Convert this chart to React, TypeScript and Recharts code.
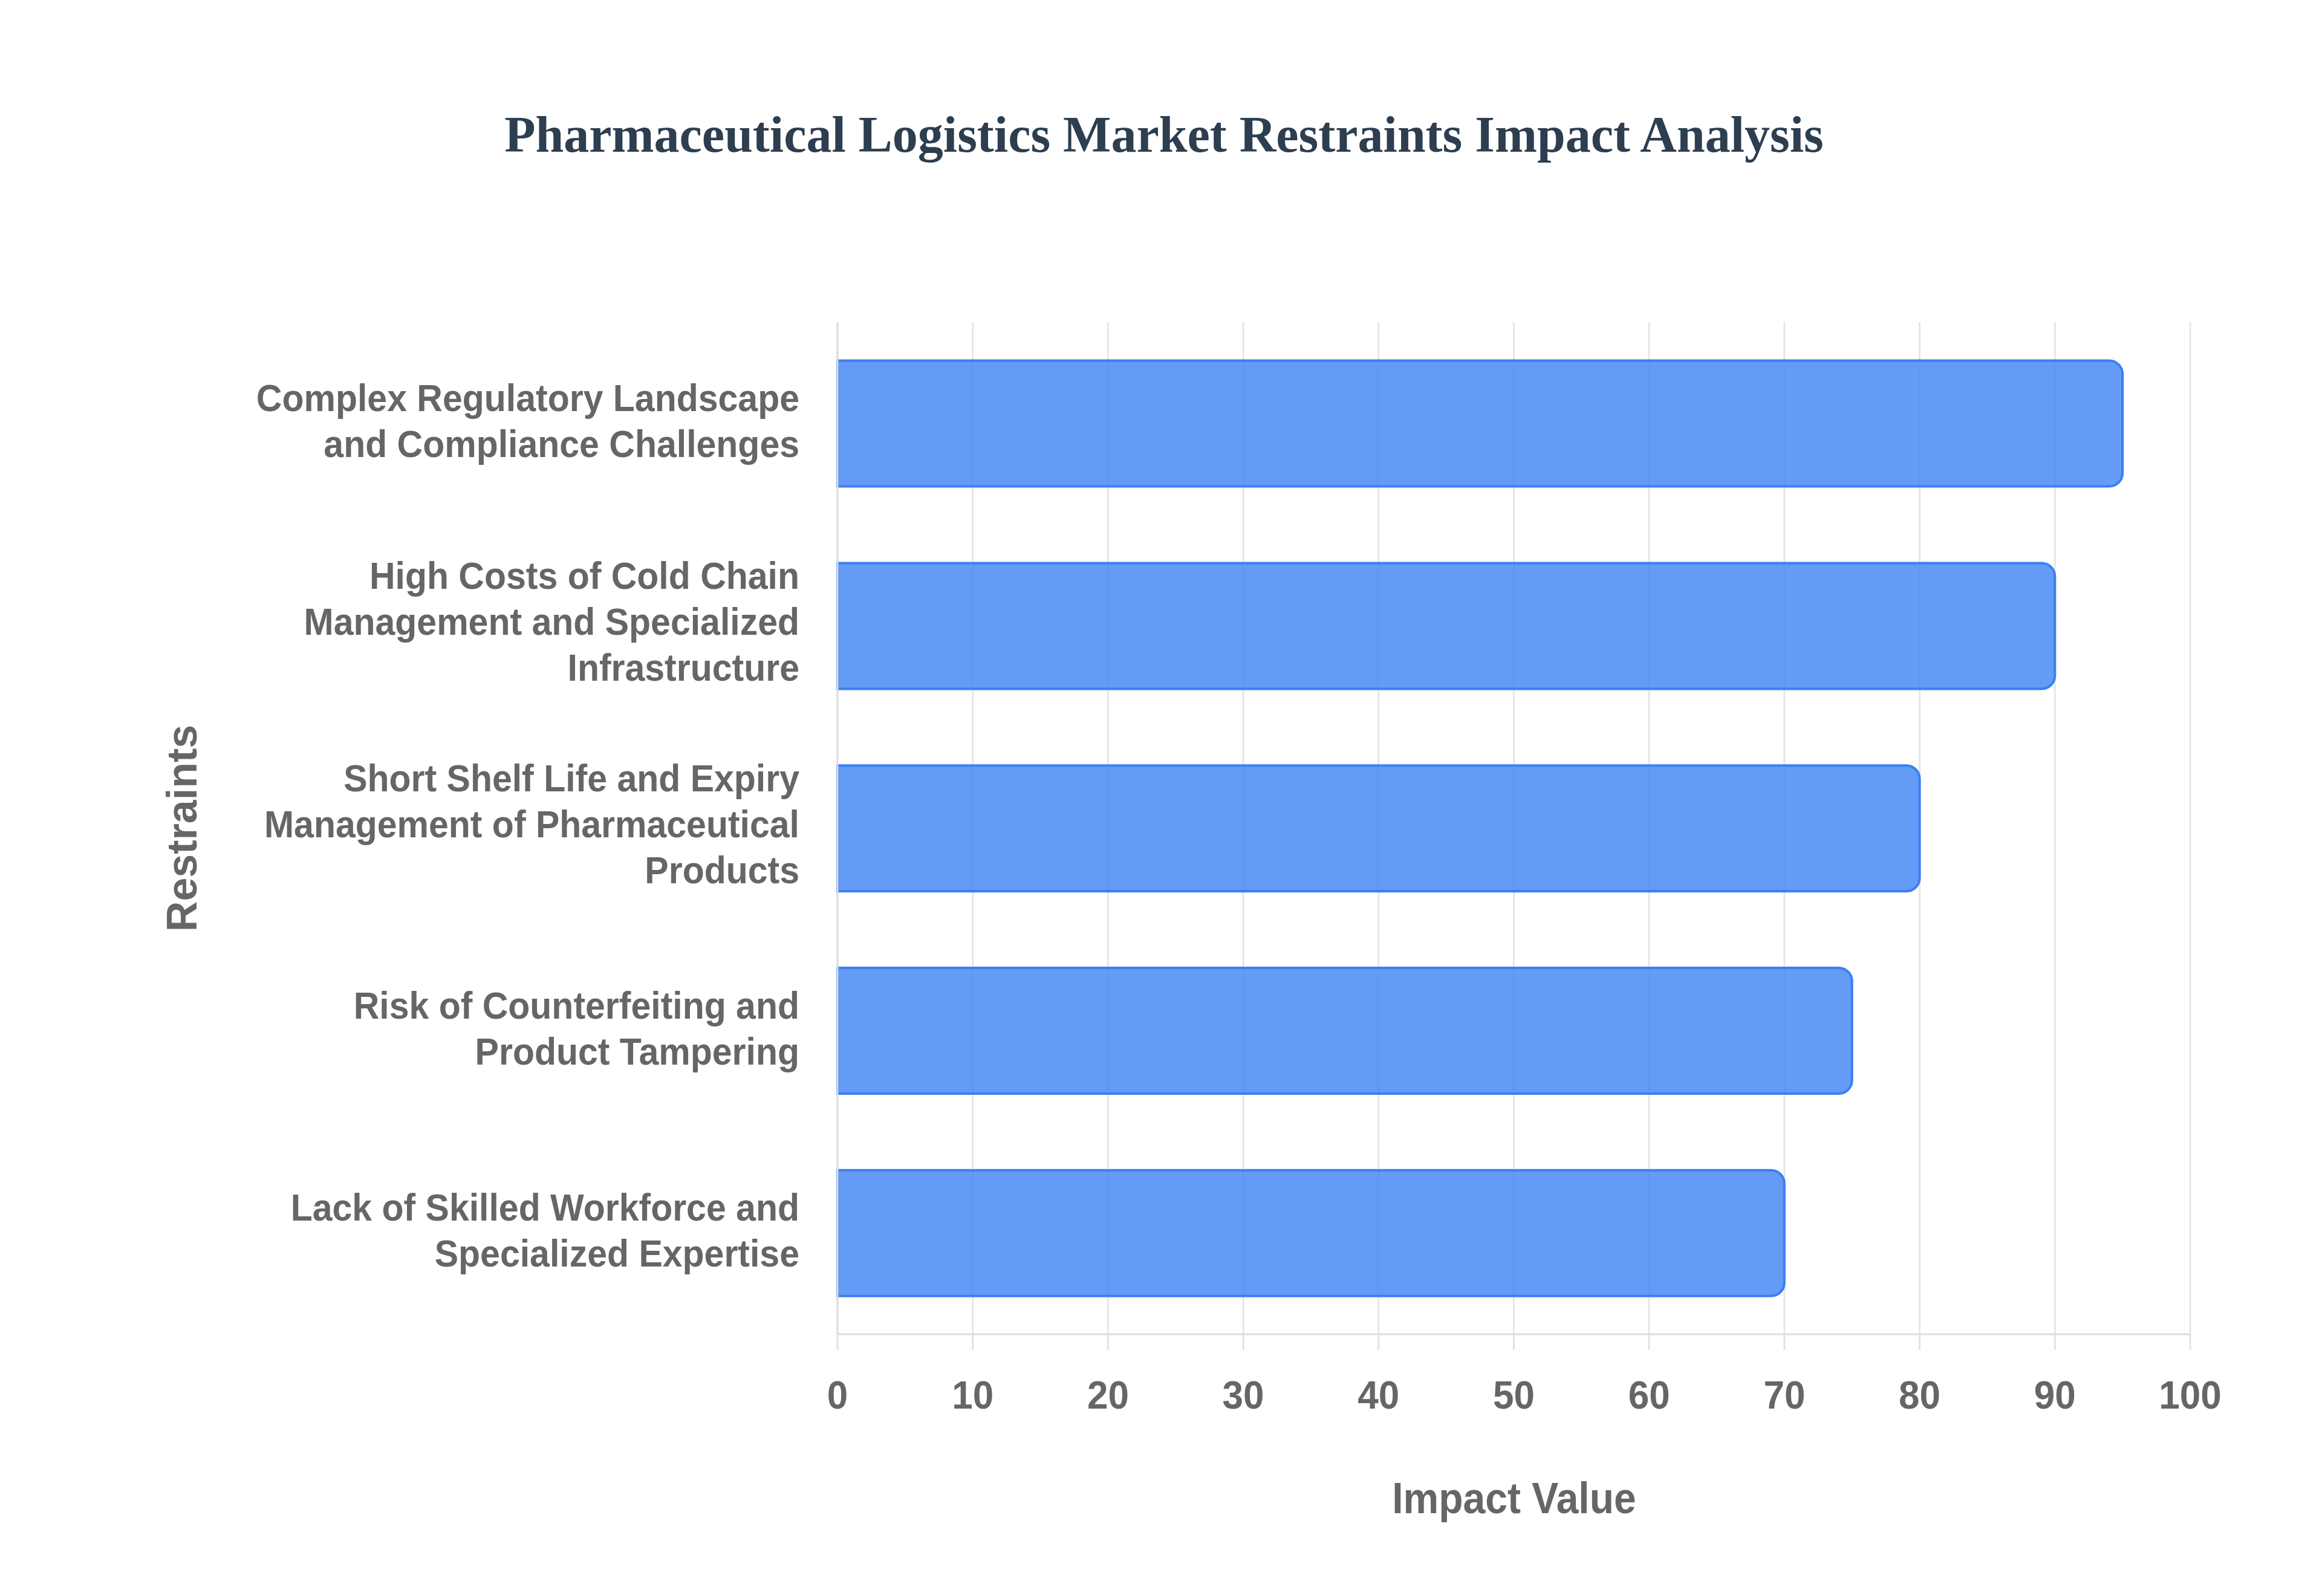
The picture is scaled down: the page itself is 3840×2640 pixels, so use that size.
import React from 'react';
import { BarChart, Bar, XAxis, YAxis, CartesianGrid } from 'recharts';

const restraintLines: string[][] = [
  ['Complex Regulatory Landscape', 'and Compliance Challenges'],
  ['High Costs of Cold Chain', 'Management and Specialized', 'Infrastructure'],
  ['Short Shelf Life and Expiry', 'Management of Pharmaceutical', 'Products'],
  ['Risk of Counterfeiting and', 'Product Tampering'],
  ['Lack of Skilled Workforce and', 'Specialized Expertise'],
];
const categories: string[] = restraintLines.map((l) => l.join(' '));
const impactValues: number[] = [95, 90, 80, 75, 70];
const xTicks: number[] = [0, 10, 20, 30, 40, 50, 60, 70, 80, 90, 100];

const chartTitle = 'Pharmaceutical Logistics Market Restraints Impact Analysis';
const xTitle = 'Impact Value';
const yTitle = 'Restraints';

const data = categories.map((name, i) => ({ name, value: impactValues[i] }));

const W = 3840;
const H = 2640;
const SANS = '"Liberation Sans", Arial, Helvetica, sans-serif';
const TEXT_GREY = '#666666';

const YTick = (props: any) => {
  const { x, y, payload } = props;
  const idx = categories.indexOf(payload.value);
  const lines = idx >= 0 ? restraintLines[idx] : [String(payload.value)];
  const lh = 76;
  const start = y - 2 - ((lines.length - 1) * lh) / 2;
  return (
    <g transform={`translate(0 ${y}) scale(1 1.08) translate(0 ${-y})`}>
      <text
        x={x}
        y={start}
        textAnchor="end"
        fill={TEXT_GREY}
        fontFamily={SANS}
        fontWeight={700}
        fontSize={59}
      >
        {lines.map((l, i) => (
          <tspan key={i} x={x} y={start + (i * lh) / 1.08} dy="0.36em">
            {l}
          </tspan>
        ))}
      </text>
    </g>
  );
};

const XTick = (props: any) => {
  const { x, y, payload } = props;
  const cy = y + 23;
  return (
    <g transform={`translate(0 ${cy}) scale(1 1.06) translate(0 ${-cy})`}>
      <text
        x={x}
        y={y}
        textAnchor="middle"
        fill={TEXT_GREY}
        fontFamily={SANS}
        fontWeight={700}
        fontSize={62}
        dy="0.74em"
      >
        {payload.value}
      </text>
    </g>
  );
};

export default function App() {
  return (
    <div style={{ position: 'absolute', left: 0, top: 0, width: W, height: H, background: '#ffffff' }}>
      <BarChart
        width={W}
        height={H}
        data={data}
        layout="vertical"
        margin={{ top: 533, right: 218, bottom: 283, left: 0 }}
        barCategoryGap="19%"
      >
        <CartesianGrid horizontal={false} stroke="#e6e6e6" strokeWidth={3} />
        <XAxis
          type="number"
          domain={[0, 100]}
          ticks={xTicks}
          height={150}
          axisLine={{ stroke: '#dddddd', strokeWidth: 3 }}
          tickLine={{ stroke: '#e2e2e2', strokeWidth: 3 }}
          tickSize={26}
          tickMargin={50}
          tick={<XTick />}
          interval={0}
        />
        <YAxis
          type="category"
          dataKey="name"
          width={1385}
          axisLine={{ stroke: '#dddddd', strokeWidth: 3 }}
          tickLine={false}
          tickSize={0}
          tickMargin={63}
          tick={<YTick />}
          interval={0}
        />
        <Bar
          dataKey="value"
          fill="#4285f4"
          fillOpacity={0.82}
          stroke="#3b7ff2"
          strokeWidth={4}
          radius={[0, 22, 22, 0]}
          isAnimationActive={false}
        />
      </BarChart>
      <svg
        width={W}
        height={H}
        style={{ position: 'absolute', left: 0, top: 0, pointerEvents: 'none' }}
      >
        <text
          x={1925}
          y={251}
          textAnchor="middle"
          fill="#2c3e50"
          fontFamily='"Liberation Serif", "Times New Roman", serif'
          fontWeight={700}
          fontSize={84}
        >
          {chartTitle}
        </text>
        <g transform="translate(0 2480) scale(1 1.1) translate(0 -2480)">
          <text
            x={2504}
            y={2501}
            textAnchor="middle"
            fill={TEXT_GREY}
            fontFamily={SANS}
            fontWeight={700}
            fontSize={66}
          >
            {xTitle}
          </text>
        </g>
        <text
          x={300}
          y={1370}
          textAnchor="middle"
          fill={TEXT_GREY}
          fontFamily={SANS}
          fontWeight={700}
          fontSize={70}
          dy="0.36em"
          transform="rotate(-90 300 1370)"
        >
          {yTitle}
        </text>
      </svg>
    </div>
  );
}
